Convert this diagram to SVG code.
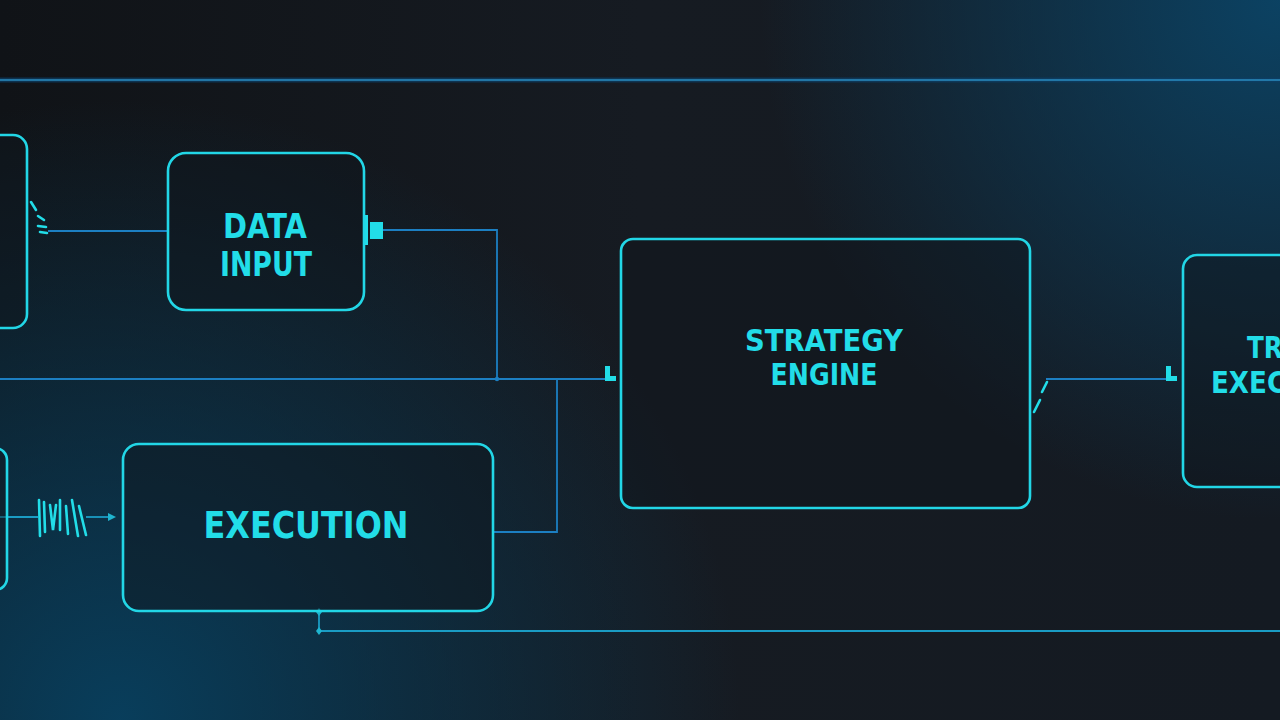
<svg xmlns="http://www.w3.org/2000/svg" width="1280" height="720" viewBox="0 0 1280 720">
  <defs>
    <linearGradient id="bg" x1="0" y1="0" x2="1" y2="0">
      <stop offset="0" stop-color="#101317"/>
      <stop offset="0.5" stop-color="#161b22"/>
      <stop offset="1" stop-color="#141a22"/>
    </linearGradient>
    <radialGradient id="tr" cx="1280" cy="0" r="520" gradientUnits="userSpaceOnUse">
      <stop offset="0" stop-color="#0b4466" stop-opacity="0.95"/>
      <stop offset="1" stop-color="#0b4466" stop-opacity="0"/>
    </radialGradient>
    <radialGradient id="bl" cx="120" cy="720" r="620" gradientUnits="userSpaceOnUse">
      <stop offset="0" stop-color="#08405f" stop-opacity="0.95"/>
      <stop offset="1" stop-color="#08405f" stop-opacity="0"/>
    </radialGradient>
  </defs>
  <style>
    .box { fill: #10161c; fill-opacity: 0.45; stroke: #22d6e6; stroke-width: 2.6; }
    .lbl { font-family: "DejaVu Sans", "Liberation Sans", sans-serif; font-weight: bold; fill: #22dde8; }
    .wire { fill: none; stroke: #1c7fc2; stroke-width: 1.8; }
    .wire2 { fill: none; stroke: #1a9cc4; stroke-width: 1.8; }
    .mark { fill: #22dde8; }
    .tick { stroke: #22dde8; stroke-width: 2.6; stroke-linecap: round; fill: none; }
  </style>
  <rect width="1280" height="720" fill="url(#bg)"/>
  <rect width="1280" height="720" fill="url(#tr)"/>
  <rect width="1280" height="720" fill="url(#bl)"/>

  <!-- top rule -->
  <line x1="0" y1="80" x2="1280" y2="80" stroke="#0d3f66" stroke-width="5" opacity="0.7"/>
  <line x1="0" y1="80" x2="1280" y2="80" stroke="#2a8cc0" stroke-width="1.6"/>

  <g id="connectors">
    <line class="wire" x1="48" y1="231" x2="168" y2="231"/>
    <polyline class="wire" points="383,230 497,230 497,379"/>
    <line class="wire" x1="0" y1="379" x2="606" y2="379"/>
    <circle cx="497" cy="379" r="2.2" fill="#1c7fc2"/>
    <polyline class="wire" points="557,379 557,532 493,532"/>
    <line class="wire" x1="1046" y1="379" x2="1168" y2="379"/>
    <line class="wire2" x1="0" y1="517" x2="38" y2="517"/>
    <line class="wire2" x1="86" y1="517" x2="112" y2="517"/>
    <path d="M108,513 L116,517 L108,521 Z" fill="#1fb5d0"/>
    <polyline class="wire2" points="319,612 319,631 1280,631"/>
    <path d="M319,608 L322,612 L319,616 L316,612 Z" fill="#1fb5d0"/>
    <path d="M319,627 L322,631 L319,635 L316,631 Z" fill="#1fb5d0"/>
    <!-- port marks -->
    <rect class="mark" x="364" y="215" width="4" height="30"/>
    <rect class="mark" x="370" y="222" width="13" height="17"/>
    <path class="mark" d="M605,366 h5 v10 h6 v5 h-11 Z"/>
    <path class="mark" d="M1166,366 h5 v10 h6 v5 h-11 Z"/>
    <!-- tick marks -->
    <path class="tick" d="M31,202 L36,210 M38,216 L44,220 M38,226 L46,227 M40,232 L47,233"/>
    <path class="tick" d="M1047,382 L1042,392 M1040,400 L1034,412"/>
    <path class="tick" d="M39,500 L40,536 M44,502 L45,532 M50,505 L53,530 L56,505 M60,500 L60,530 M66,506 L68,534 M72,500 L78,536 M79,506 L86,535"/>
  </g>

  <g id="node-left-top">
    <rect class="box" x="-20" y="135" width="47" height="193" rx="14"/>
  </g>
  <g id="node-left-bottom">
    <rect class="box" x="-40" y="448" width="47" height="142" rx="12"/>
  </g>

  <g id="node-data-input">
    <rect class="box" x="168" y="153" width="196" height="157" rx="18"/>
    <text class="lbl" x="265" y="238" font-size="33" text-anchor="middle" textLength="84" lengthAdjust="spacingAndGlyphs">DATA</text>
    <text class="lbl" x="266" y="276" font-size="33" text-anchor="middle" textLength="92" lengthAdjust="spacingAndGlyphs">INPUT</text>
  </g>

  <g id="node-strategy-engine">
    <rect class="box" x="621" y="239" width="409" height="269" rx="12"/>
    <text class="lbl" x="824" y="351" font-size="31" text-anchor="middle" textLength="158" lengthAdjust="spacingAndGlyphs">STRATEGY</text>
    <text class="lbl" x="824" y="385" font-size="31" text-anchor="middle" textLength="107" lengthAdjust="spacingAndGlyphs">ENGINE</text>
  </g>

  <g id="node-execution">
    <rect class="box" x="123" y="444" width="370" height="167" rx="16"/>
    <text class="lbl" x="306" y="538" font-size="37" text-anchor="middle" textLength="205" lengthAdjust="spacingAndGlyphs">EXECUTION</text>
  </g>

  <g id="node-trade-execution">
    <rect class="box" x="1183" y="255" width="140" height="232" rx="14"/>
    <text class="lbl" x="1247" y="358" font-size="30" textLength="92" lengthAdjust="spacingAndGlyphs">TRADE</text>
    <text class="lbl" x="1211" y="393" font-size="30" textLength="168" lengthAdjust="spacingAndGlyphs">EXECUTION</text>
  </g>
</svg>
